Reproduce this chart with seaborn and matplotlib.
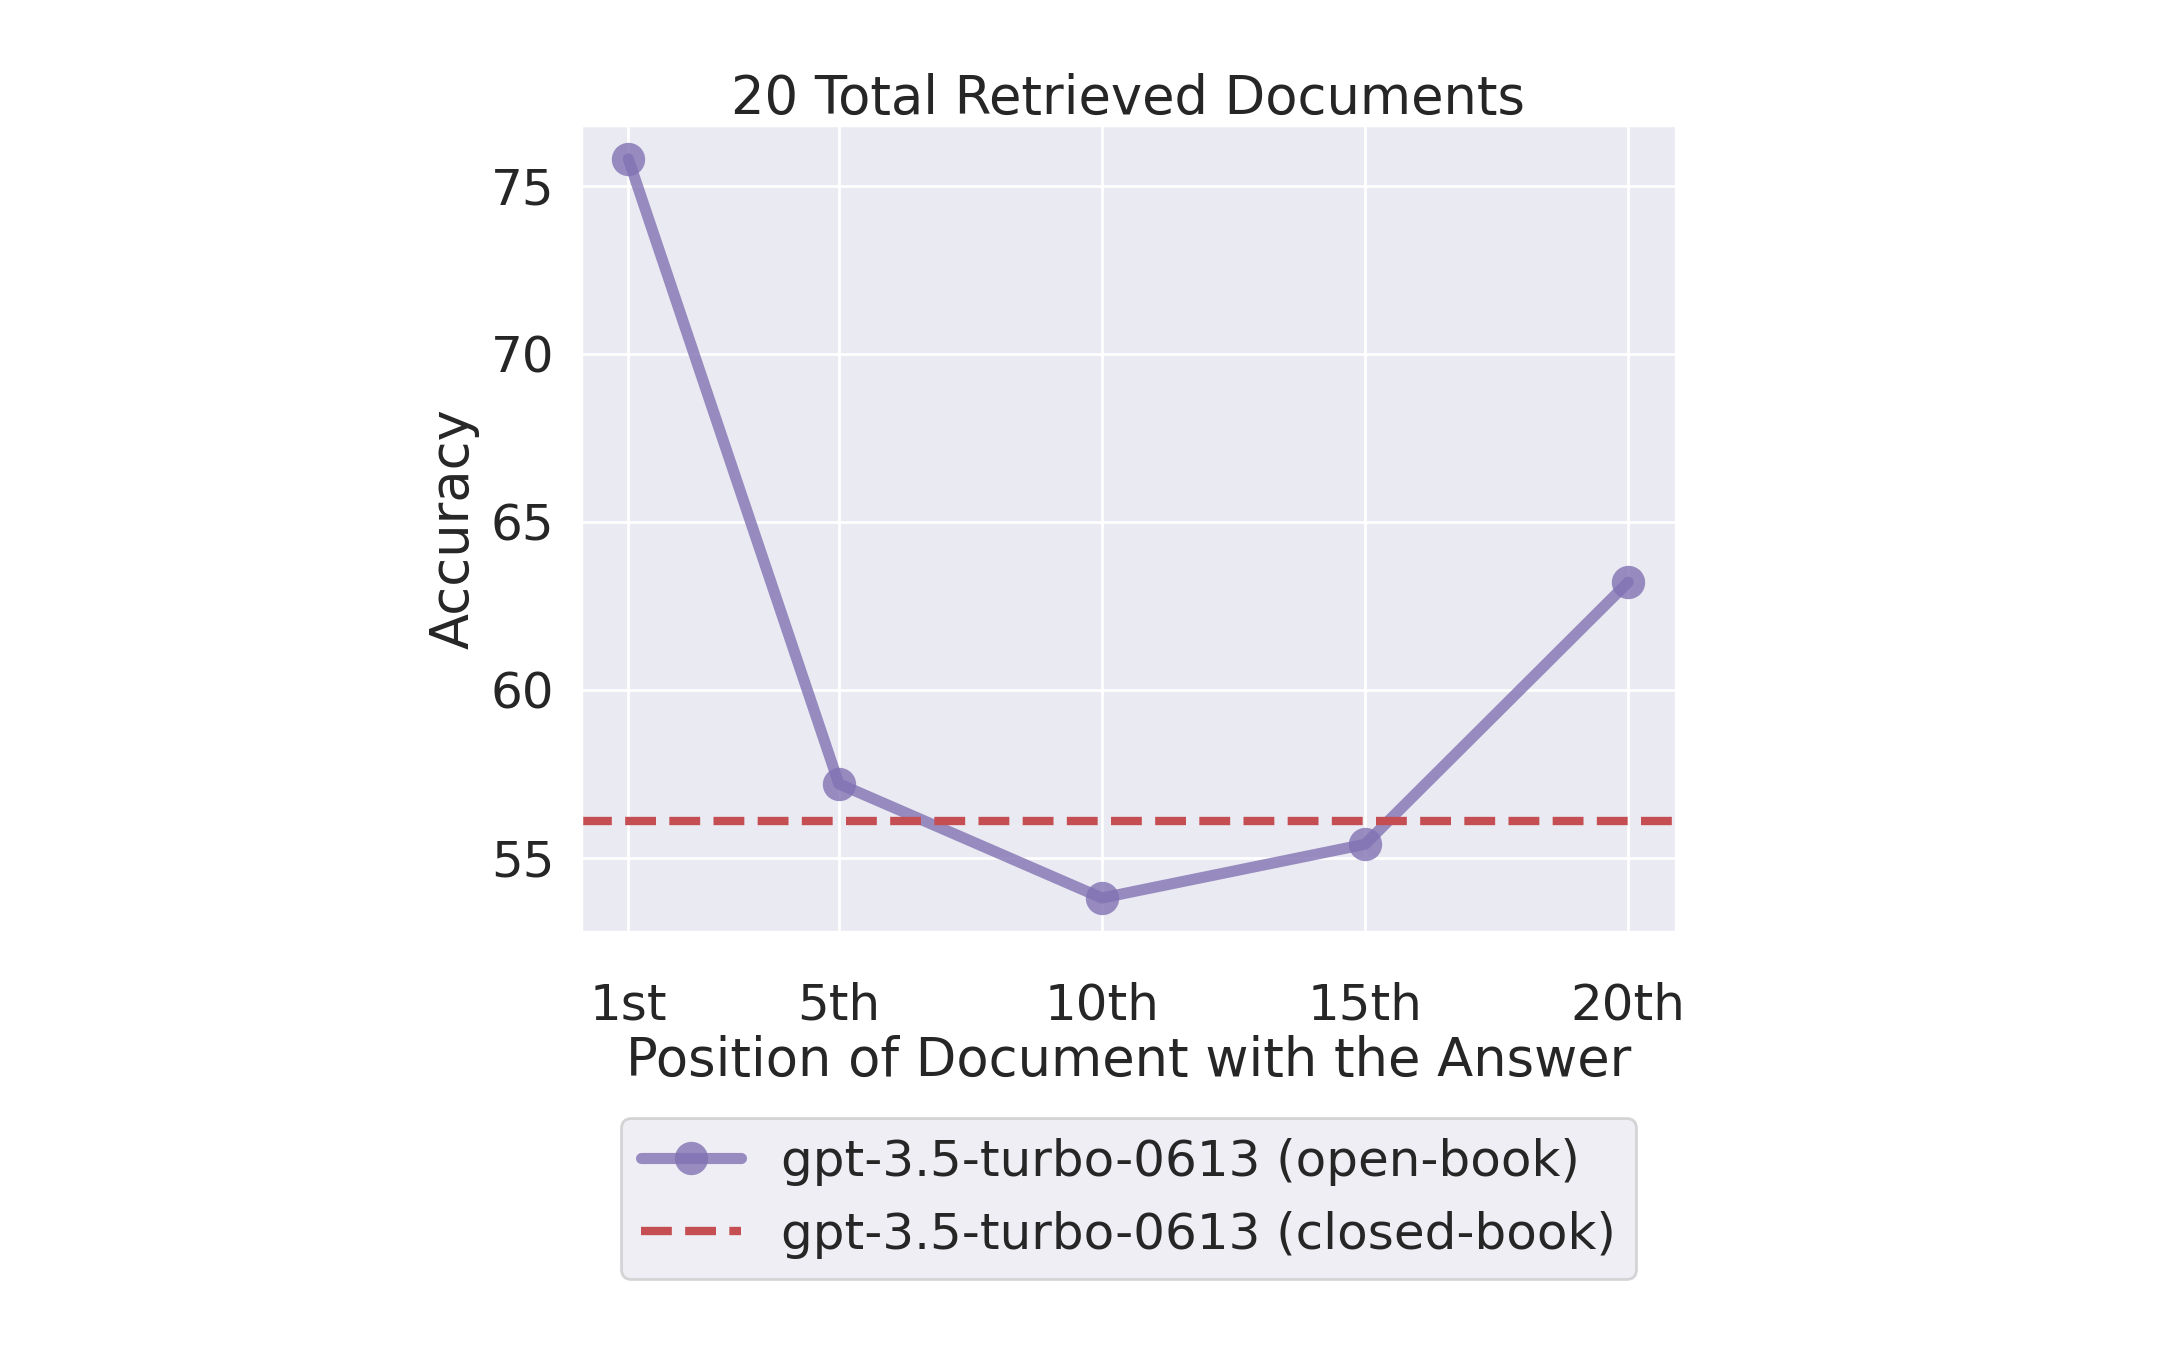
import matplotlib
matplotlib.use("Agg")
import matplotlib.pyplot as plt
import seaborn as sns
import pandas as pd

positions = [1, 5, 10, 15, 20]
tick_labels = ["1st", "5th", "10th", "15th", "20th"]
open_book = [75.8, 57.2, 53.8, 55.4, 63.2]
closed_book = 56.1

sns.set_theme(style="darkgrid")
plt.rcParams["font.family"] = ["DejaVu Sans"]

fig = plt.figure(figsize=(10.88, 6.81), dpi=200)
ax = fig.add_axes([0.267, 0.316, 0.503, 0.592])

df = pd.DataFrame({"pos": positions, "acc": open_book})
sns.lineplot(data=df, x="pos", y="acc", ax=ax, color="#8172b3", alpha=0.8,
             marker="o", markersize=12, markeredgewidth=0, linewidth=4,
             label="gpt-3.5-turbo-0613 (open-book)")
ax.axhline(closed_book, color="#c44e52", linestyle="--", linewidth=3,
           label="gpt-3.5-turbo-0613 (closed-book)")

ax.set_xticks(positions)
ax.set_xticklabels(tick_labels, fontsize=18)
ax.tick_params(axis="y", labelsize=18)
ax.tick_params(axis="x", pad=12)
ax.set_xlim(0.1, 20.9)
ax.set_ylim(52.8, 76.8)
ax.set_yticks([55, 60, 65, 70, 75])
ax.set_title("20 Total Retrieved Documents", fontsize=19, pad=4)
ax.set_xlabel("Position of Document with the Answer", fontsize=19, labelpad=2)
ax.set_ylabel("Accuracy", fontsize=19)
ax.legend(loc="upper center", bbox_to_anchor=(0.5, -0.2), fontsize=18,
          frameon=True)

fig.savefig("out.png", dpi=200)
